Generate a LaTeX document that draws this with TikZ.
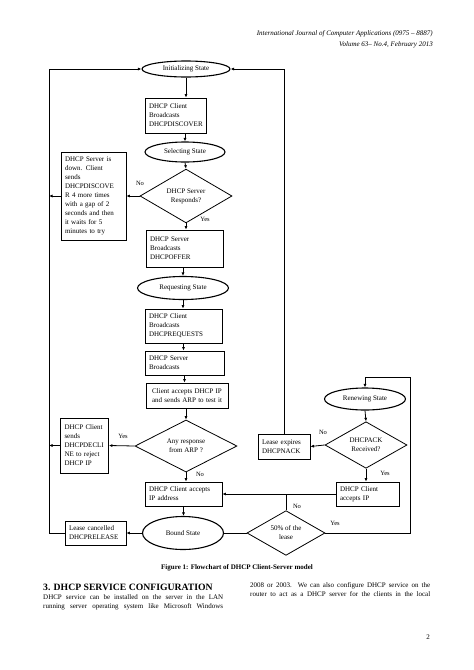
\documentclass[tikz,border=0pt]{standalone}
\usepackage{fontspec}
\setmainfont{Liberation Serif}
\usetikzlibrary{shapes.geometric,arrows.meta}
\begin{document}
\begin{tikzpicture}[x=1pt,y=-1pt,
  every node/.style={font=\fontsize{7}{9}\selectfont, inner sep=0pt},
  box/.style={draw, line width=0.8pt, rectangle, inner xsep=4pt, inner ysep=0pt, align=left},
  state/.style={draw, ellipse, line width=1.1pt, inner sep=0pt},
  dec/.style={draw, diamond, line width=0.8pt, align=center, inner sep=0pt},
  arr/.style={line width=0.8pt, -{Latex[length=3.5pt,width=3pt]}},
  ln/.style={line width=0.8pt},
  lbl/.style={font=\fontsize{6.5}{8}\selectfont},
  body/.style={font=\fontsize{7}{8.5}\selectfont, anchor=base west}
]
\fill[white] (0,0) rectangle (474,670);
\useasboundingbox (0,0) rectangle (474,670);

% header
\node[font=\fontsize{7}{8.5}\selectfont\itshape, anchor=base east] (h1) at (433,35) {International Journal of Computer Applications (0975 \textendash{} 8887)};
\node[font=\fontsize{7}{8.5}\selectfont\itshape, anchor=base east] (h2) at (433,46) {Volume 63\textendash{} No.4, February 2013};

% main column
\node[state, minimum width=88pt, minimum height=16pt] (init) at (186,69) {Initializing State};
\node[box, minimum width=61pt, minimum height=35pt, text width=53pt] (disc) at (175.5,115.5) {DHCP Client\\Broadcasts\\DHCPDISCOVER};
\node[state, minimum width=80pt, minimum height=20pt] (sel) at (185,152) {Selecting State};
\node[dec, minimum width=92pt, minimum height=40pt] (resp) at (186,196) {DHCP Server\\Responds?};
\node[box, minimum width=65pt, minimum height=88pt, text width=57pt] (down) at (93.5,196) {DHCP Server is\\down. Client\\sends\\DHCPDISCOVE\\R 4 more times\\with a gap of 2\\seconds and then\\it waits for 5\\minutes to try};
\node[box, minimum width=77pt, minimum height=37pt, text width=69pt] (offer) at (184.5,248.5) {DHCP Server\\Broadcasts\\DHCPOFFER};
\node[state, minimum width=91pt, minimum height=23pt] (reqs) at (183,288) {Requesting State};
\node[box, minimum width=77pt, minimum height=34pt, text width=69pt] (req) at (183.5,326) {DHCP Client\\Broadcasts\\DHCPREQUESTS};
\node[box, minimum width=79pt, minimum height=24pt, text width=71pt] (srvb) at (184.5,363) {DHCP Server\\Broadcasts};
\node[box, align=center, minimum width=82pt, minimum height=25pt, text width=74pt] (arp) at (187,395.5) {Client accepts DHCP IP\\and sends ARP to test it};
\node[dec, minimum width=102pt, minimum height=42pt] (arpd) at (186,446) {Any response\\from ARP ?};
\node[box, minimum width=47pt, minimum height=55pt, text width=40pt] (decl) at (84.5,445.5) {DHCP Client\\sends\\DHCPDECLI\\NE to reject\\DHCP IP};
\node[box, minimum width=77pt, minimum height=24pt, text width=69pt] (accL) at (183.5,494) {DHCP Client accepts\\IP address};
\node[state, minimum width=81pt, minimum height=33pt] (bound) at (183,533) {Bound State};
\node[box, minimum width=61pt, minimum height=24pt, text width=53pt] (cancel) at (95.5,533) {Lease cancelled\\DHCPRELEASE};

% right part
\node[dec, minimum width=78pt, minimum height=41pt] (half) at (286,533) {50\% of the\\lease};
\node[box, minimum width=63pt, minimum height=24pt, text width=55pt] (accR) at (367.5,494) {DHCP Client\\accepts IP};
\node[state, minimum width=81pt, minimum height=22pt] (renew) at (365,399) {Renewing State};
\node[dec, minimum width=82pt, minimum height=40pt] (ack) at (366,445) {DHCPACK\\Received?};
\node[box, minimum width=52pt, minimum height=25pt, text width=44pt] (expire) at (284,446.5) {Lease expires\\DHCPNACK};

\coordinate (lt) at (49,69);
\coordinate (lb) at (49,533);
\coordinate (rt) at (410,377);

% vertical flow
\draw[arr] (init.south) -- (init.south |- disc.north);
\draw[arr] (sel.north |- disc.south) -- (sel.north);
\draw[arr] (sel.south) -- (resp.north);
\draw[arr] (resp.south) -- (resp.south |- offer.north);
\draw[arr] (reqs.north |- offer.south) -- (reqs.north);
\draw[arr] (reqs.south) -- (reqs.south |- req.north);
\draw[arr] (req.south) -- (req.south |- srvb.north);
\draw[arr] (srvb.south) -- (srvb.south |- arp.north);
\draw[arr] (arpd.north |- arp.south) -- (arpd.north);
\draw[arr] (arpd.south) -- (arpd.south |- accL.north);
\draw[arr] (accL.south) -- (accL.south |- bound.north);

% left side
\draw[arr] (resp.west) -- (down.east);
\draw[arr] (arpd.west) -- (decl.east);
\draw[arr] (bound.west) -- (cancel.east);
\draw[arr] (down.west) -- (down.west -| lt);
\draw[arr] (decl.west) -- (decl.west -| lt);
\draw[arr] (cancel.west) -- (lb) -- (lt) -- (init.west);

% right side
\draw[arr] (expire.north) |- (init.east);
\draw[arr] (ack.west) -- (expire.east);
\draw[arr] (renew.south) -- (ack.north);
\draw[arr] (ack.south) -- (ack.south |- accR.north);
\draw[arr] (accR.west) -- (accL.east);
\draw[ln] (half.north) -- (half.north |- accL.east);
\draw[ln] (bound.east) -- (half.west);
\draw[arr] (half.east) -| (rt) -| (renew.north);

% labels
\node[lbl] (l1) at (140,183) {No};
\node[lbl] (l2) at (205,219) {Yes};
\node[lbl] (l3) at (123,436) {Yes};
\node[lbl] (l4) at (200,474) {No};
\node[lbl] (l5) at (323,432) {No};
\node[lbl] (l6) at (385,473) {Yes};
\node[lbl] (l7) at (297,506) {No};
\node[lbl] (l8) at (335,523) {Yes};

% caption and text
\node[font=\fontsize{7}{8}\selectfont\bfseries] (cap) at (237,568) {Figure 1: Flowchart of DHCP Client-Server model};
\node[font=\fontsize{9.7}{11}\selectfont\bfseries, anchor=base west] (sec) at (43,590.5) {3. DHCP SERVICE CONFIGURATION};
\node[body] (t1) at (43,599.5) {\makebox[180pt][s]{DHCP service can be installed on the server in the LAN}};
\node[body] (t2) at (43,608) {\makebox[180pt][s]{running server operating system like Microsoft Windows}};
\node[body] (t3) at (250,587.5) {\makebox[180pt][s]{2008 or 2003. We can also configure DHCP service on the}};
\node[body] (t4) at (250,596.5) {\makebox[180pt][s]{router to act as a DHCP server for the clients in the local}};
\node[font=\fontsize{7}{8}\selectfont] (pg) at (428,637) {2};
\end{tikzpicture}
\end{document}
